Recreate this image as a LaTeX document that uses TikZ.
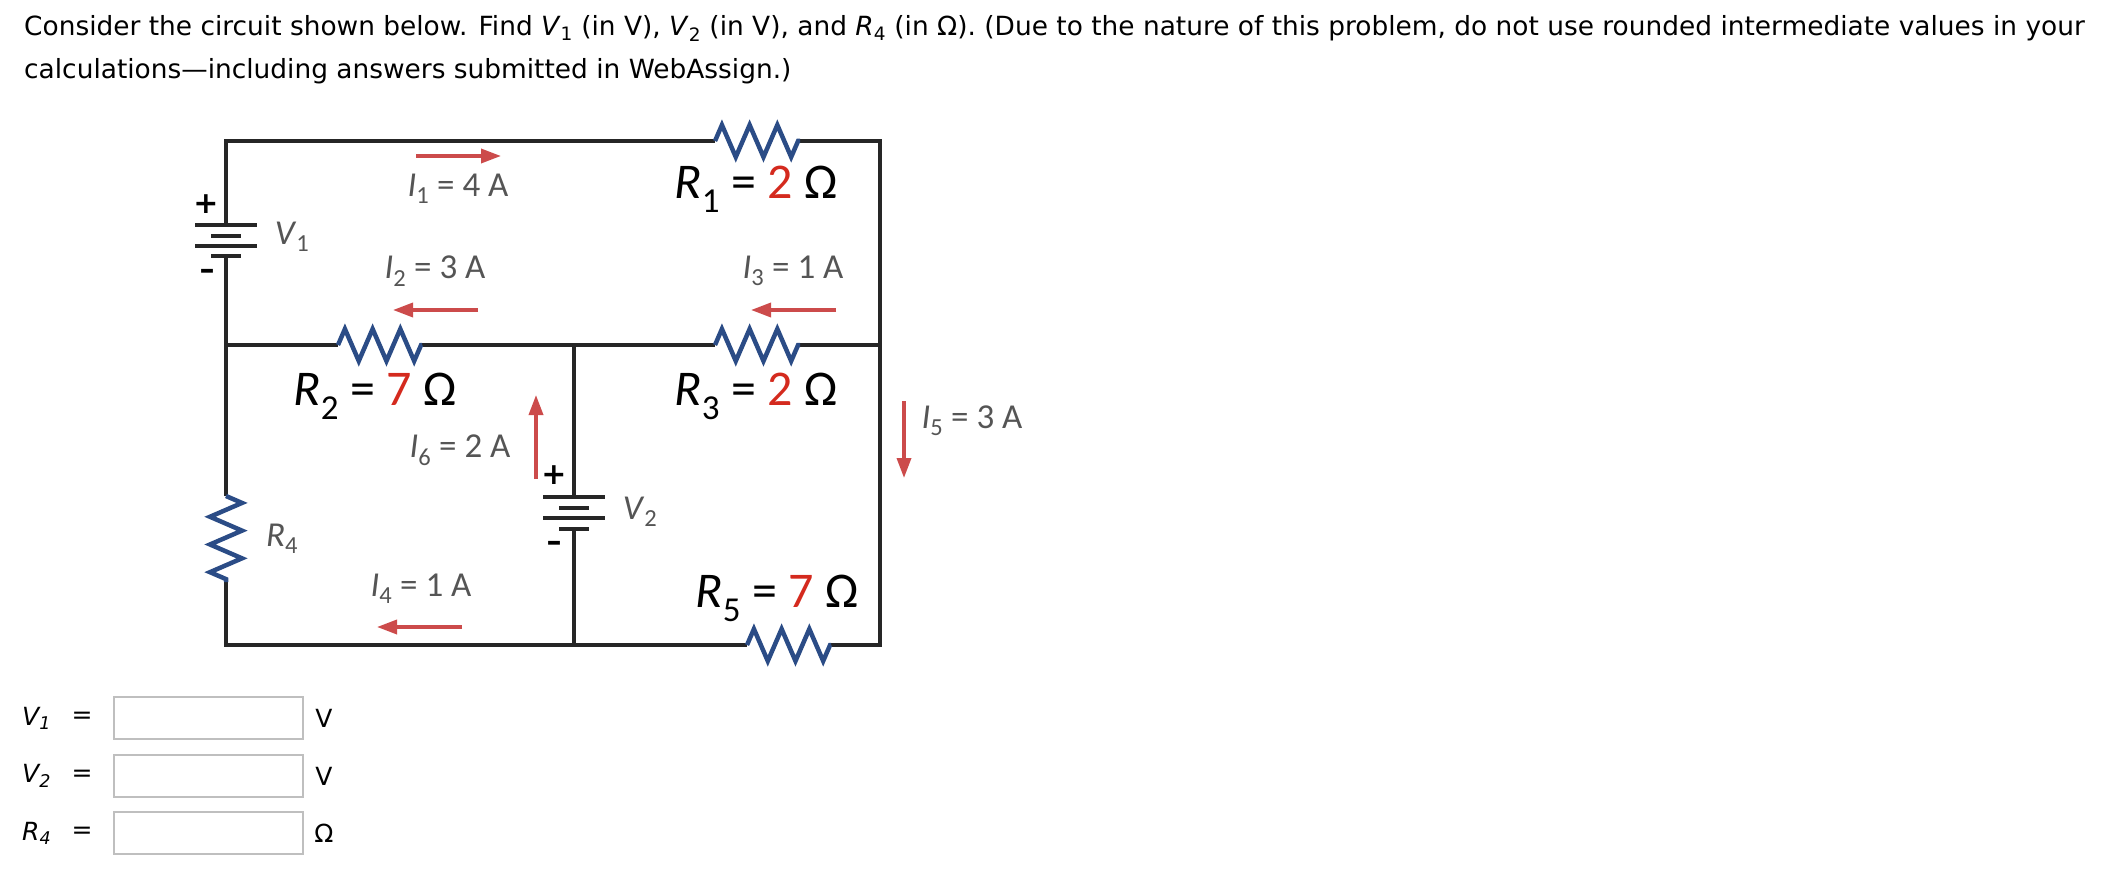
\documentclass[tikz,border=0pt]{standalone}
\usepackage{fontspec}
\setmainfont{DejaVu Sans}
\newfontfamily\carl{Carlito}
\usetikzlibrary{decorations.pathmorphing,arrows.meta}
\definecolor{rblue}{HTML}{2B4C86}
\definecolor{ared}{HTML}{CC4B4B}
\definecolor{lgray}{HTML}{555555}
\definecolor{ored}{HTML}{D42A1E}
\begin{document}
\begin{tikzpicture}[x=1pt,y=-1pt,
  wire/.style={line width=3.5pt,draw=black!85},
  res/.style={line width=4.5pt,draw=rblue,decorate,decoration={zigzag,segment length=27.7pt,amplitude=16pt}},
  cur/.style={line width=3.5pt,draw=ared,-{Triangle[length=20pt,width=14pt]}},
  ilab/.style={text=lgray,font=\fontsize{35}{40}\selectfont\carl,inner sep=0},
  rlab/.style={font=\fontsize{50}{56}\selectfont\carl,inner sep=0},
  qtext/.style={font=\fontsize{26.4}{30}\selectfont,anchor=base west,inner sep=0},
  box/.style={draw=black!25,line width=2pt,minimum width=189pt,minimum height=42pt,inner sep=0}]
\useasboundingbox (0,0) rectangle (2120,888);
\node[qtext] (q1) at (24,36) {Consider the circuit shown below. Find \textit{V}\textsubscript{1} (in V), \textit{V}\textsubscript{2} (in V), and \textit{R}\textsubscript{4} (in Ω). (Due to the nature of this problem, do not use rounded intermediate values in your};
\node[qtext] (q2) at (24,79) {calculations—including answers submitted in WebAssign.)};
% coordinates
\coordinate (TL) at (226,141); \coordinate (TR) at (880,141);
\coordinate (ML) at (226,345); \coordinate (MM) at (574,345); \coordinate (MR) at (880,345);
\coordinate (BL) at (226,645); \coordinate (BM) at (574,645); \coordinate (BR) at (880,645);
\coordinate (r1a) at (715,141); \coordinate (r1b) at (800,141);
\coordinate (r2a) at (338,345); \coordinate (r2b) at (422,345);
\coordinate (r3a) at (715,345); \coordinate (r3b) at (800,345);
\coordinate (r5a) at (747,645); \coordinate (r5b) at (831,645);
\coordinate (r4a) at (226,496); \coordinate (r4b) at (226,582);
\coordinate (v1a) at (226,225); \coordinate (v1b) at (226,256);
\coordinate (v2a) at (574,497); \coordinate (v2b) at (574,529);
% wires
\draw[wire] (v1a) -- (TL) -- (r1a);
\draw[wire] (r1b) -- (TR) -- (MR) -- (BR) -- (r5b);
\draw[wire] (r5a) -- (BL) -- (r4b);
\draw[wire] (r4a) -- (ML) -- (v1b);
\draw[wire] (ML) -- (r2a); \draw[wire] (r2b) -- (r3a); \draw[wire] (r3b) -- (MR);
\draw[wire] (MM) -- (v2a); \draw[wire] (v2b) -- (BM);
% resistors
\draw[res] (r1a) -- (r1b);
\draw[res] (r2a) -- (r2b);
\draw[res] (r3a) -- (r3b);
\draw[res] (r5a) -- (r5b);
\draw[res] (r4a) -- (r4b);
% batteries
\foreach \y/\w in {225/31,236/15,246/31,256/15}{\draw[line width=3.5pt,black!85] (226-\w,\y) -- (226+\w,\y);}
\foreach \y/\w in {497/31,508/15,518/31,529/15}{\draw[line width=3.5pt,black!85] (574-\w,\y) -- (574+\w,\y);}
\node[font=\fontsize{30}{36}\selectfont\bfseries,inner sep=0] (p1) at (206,204) {+};
\node[font=\fontsize{30}{36}\selectfont\bfseries,inner sep=0] (m1) at (207,274) {–};
\node[font=\fontsize{30}{36}\selectfont\bfseries,inner sep=0] (p2) at (554,475) {+};
\node[font=\fontsize{30}{36}\selectfont\bfseries,inner sep=0] (m2) at (554,546) {–};
\node[ilab] (lv1) at (292,237) {\textit{V}\textsubscript{1}};
\node[ilab] (lv2) at (640,512) {\textit{V}\textsubscript{2}};
\node[ilab] (lr4) at (282,539) {\textit{R}\textsubscript{4}};
% current labels
\node[ilab] (li1) at (458,189) {\textit{I}\textsubscript{1} = 4 A};
\node[ilab] (li2) at (435,271) {\textit{I}\textsubscript{2} = 3 A};
\node[ilab] (li3) at (793,271) {\textit{I}\textsubscript{3} = 1 A};
\node[ilab] (li6) at (460,450) {\textit{I}\textsubscript{6} = 2 A};
\node[ilab] (li4) at (421,589) {\textit{I}\textsubscript{4} = 1 A};
\node[ilab] (li5) at (972,421) {\textit{I}\textsubscript{5} = 3 A};
\coordinate (a1s) at (416,156); \coordinate (a1e) at (501,156);
\coordinate (a2s) at (478,310); \coordinate (a2e) at (393,310);
\coordinate (a3s) at (836,310); \coordinate (a3e) at (751,310);
\coordinate (a6s) at (536,479); \coordinate (a6e) at (536,395);
\coordinate (a4s) at (462,627); \coordinate (a4e) at (377,627);
\coordinate (a5s) at (904,401); \coordinate (a5e) at (904,478);
\draw[cur] (a1s) -- (a1e); \draw[cur] (a2s) -- (a2e); \draw[cur] (a3s) -- (a3e);
\draw[cur] (a6s) -- (a6e); \draw[cur] (a4s) -- (a4e); \draw[cur] (a5s) -- (a5e);
% resistor labels
\node[rlab] (lr1) at (756,189) {\textit{R}\textsubscript{1} = \textcolor{ored}{2} Ω};
\node[rlab] (lr2) at (375,396) {\textit{R}\textsubscript{2} = \textcolor{ored}{7} Ω};
\node[rlab] (lr3) at (756,396) {\textit{R}\textsubscript{3} = \textcolor{ored}{2} Ω};
\node[rlab] (lr5) at (777,598) {\textit{R}\textsubscript{5} = \textcolor{ored}{7} Ω};
% answers
\foreach \n/\lab/\u/\y in {a/V\textsubscript{1}/V/718,b/V\textsubscript{2}/V/776,c/R\textsubscript{4}/Ω/833}{
  \node[font=\fontsize{25}{30}\selectfont,inner sep=0,anchor=west] (l\n) at (22,\y) {\textit{\lab}};
  \node[font=\fontsize{25}{30}\selectfont,inner sep=0] (e\n) at (82,\y) {=};
  \node[box] (b\n) at (208,\y) {};
  \node[font=\fontsize{25}{30}\selectfont,inner sep=0] (u\n) at (324,\y) {\u};
}
\end{tikzpicture}
\end{document}
